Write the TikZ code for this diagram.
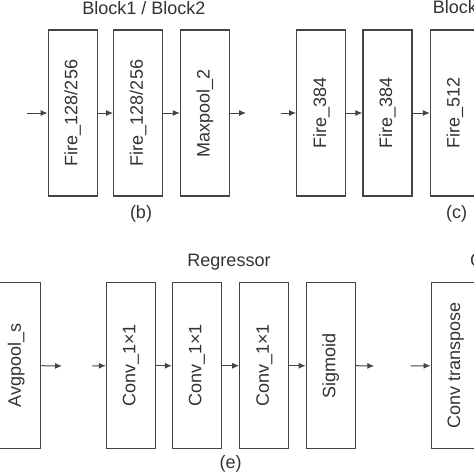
\documentclass[tikz,border=0pt]{standalone}
\usepackage{fontspec}
\setmainfont{Liberation Sans}
\usepackage{graphicx}
\usetikzlibrary{arrows.meta}
\definecolor{ink}{HTML}{333333}
\definecolor{edge}{HTML}{444444}
\begin{document}
\begin{tikzpicture}[x=1pt,y=-1pt,
  every node/.style={text=ink,font=\fontsize{18}{20}\selectfont},
  blk/.style={draw=edge,line width=1.3pt,minimum width=49pt,minimum height=166pt,inner sep=0pt,fill=white},
  conn/.style={draw=edge,line width=1pt,-{Latex[length=7pt,width=6pt]}},
  ttl/.style={anchor=base},
  sublbl/.style={anchor=center}]
\useasboundingbox (0,0) rectangle (474,474);
\fill[white] (0,0) rectangle (474,474);
\clip (0,0) rectangle (474,474);
% row 1
\node[blk] (b1) at (72.7,113) {\rotatebox{90}{Fire\_128/256}};
\node[blk] (b2) at (138.2,113) {\rotatebox{90}{Fire\_128/256}};
\node[blk] (b3) at (205,113) {\rotatebox{90}{Maxpool\_2}};
\node[blk] (c1) at (321.3,113) {\rotatebox{90}{Fire\_384}};
\node[blk] (c2) at (387.5,113) {\rotatebox{90}{Fire\_384}};
\node[blk] (c3) at (455,113) {\rotatebox{90}{Fire\_512}};
\coordinate (bin) at (27,113);
\coordinate (bout) at (246,113);
\coordinate (cin) at (280.7,113);
\draw[conn] (bin) -- (b1.west);
\draw[conn] (b1.east) -- (b2.west);
\draw[conn] (b2.east) -- (b3.west);
\draw[conn] (b3.east) -- (bout);
\draw[conn] (cin) -- (c1.west);
\draw[conn] (c1.east) -- (c2.west);
\draw[conn] (c2.east) -- (c3.west);
\node[ttl] (tb) at (144,14) {Block1 / Block2};
\node[ttl,anchor=base west] (tc) at (429.3,13.5) {Block};
\node[sublbl] (lb) at (141,214) {(b)};
\node[sublbl] (lc) at (456.7,214) {(c)};
% row 2
\node[blk] (d1) at (16.3,365.7) {\rotatebox{90}{Avgpool\_s}};
\node[blk] (e1) at (131,365.7) {\rotatebox{90}{Conv\_1×1}};
\node[blk] (e2) at (197,365.7) {\rotatebox{90}{Conv\_1×1}};
\node[blk] (e3) at (264.3,365.7) {\rotatebox{90}{Conv\_1×1}};
\node[blk] (e4) at (330.8,365.7) {\rotatebox{90}{Sigmoid}};
\node[blk] (f1) at (455.7,365.7) {\rotatebox{90}{Conv transpose}};
\coordinate (dout) at (62,366);
\coordinate (ein) at (92.3,366);
\coordinate (eout) at (374.3,366);
\coordinate (fin) at (410.7,366);
\draw[conn] (d1.east) -- (dout);
\draw[conn] (ein) -- (e1.west);
\draw[conn] (e1.east) -- (e2.west);
\draw[conn] (e2.east) -- (e3.west);
\draw[conn] (e3.east) -- (e4.west);
\draw[conn] (e4.east) -- (eout);
\draw[conn] (fin) -- (f1.west);
\node[ttl] (te) at (229,266.2) {Regressor};
\node[ttl,anchor=base west] (tf) at (466.7,266) {C};
\node[sublbl] (le) at (230.7,464) {(e)};
\end{tikzpicture}
\end{document}
